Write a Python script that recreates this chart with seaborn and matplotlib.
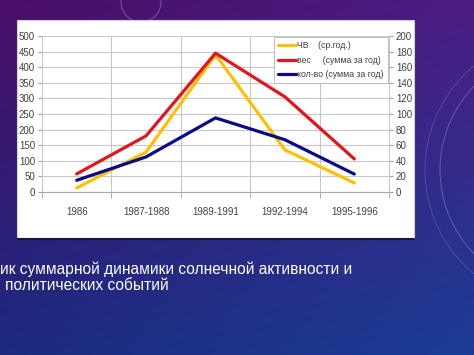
import numpy as np
import pandas as pd
import matplotlib
matplotlib.use("Agg")
import matplotlib.pyplot as plt
import seaborn as sns
from matplotlib.patches import Rectangle, Circle
from matplotlib.lines import Line2D

categories = ["1986", "1987-1988", "1989-1991", "1992-1994", "1995-1996"]
chv = [13, 128, 440, 135, 29]          # ЧВ (ср.год.) - left axis
ves = [58, 180, 445, 305, 106]         # вес (сумма за год) - left axis
kolvo = [15, 45, 95, 67, 23]           # кол-во (сумма за год) - right axis
left_ticks = list(range(0, 501, 50))
right_ticks = list(range(0, 201, 20))
legend_labels = ["ЧВ    (ср.год.)", "вес     (сумма за год)", "кол-во (сумма за год)"]
caption_1 = "ик суммарной динамики солнечной активности и"
caption_2 = "политических событий"

sns.set_style("white")
plt.rcParams["font.family"] = ["Liberation Sans", "DejaVu Sans"]

W, H = 474, 355
fig = plt.figure(figsize=(W / 100, H / 100), dpi=100)

# background gradient
bg = fig.add_axes([0, 0, 1, 1], zorder=-10)
tl = np.array([0x4a, 0x0e, 0x68]) / 255
tr = np.array([0x4c, 0x1c, 0x82]) / 255
bl = np.array([0x1c, 0x2a, 0x80]) / 255
br = np.array([0x1a, 0x3c, 0x95]) / 255
yy, xx = np.mgrid[0:1:200j, 0:1:200j]
img = (tl[None, None] * ((1 - xx) * (1 - yy))[..., None] + tr[None, None] * (xx * (1 - yy))[..., None]
       + bl[None, None] * ((1 - xx) * yy)[..., None] + br[None, None] * (xx * yy)[..., None])
bg.imshow(img, extent=[0, W, H, 0], aspect="auto")
bg.set_xlim(0, W)
bg.set_ylim(H, 0)
bg.axis("off")
# decorative faint circles
for (cx, cy, r, a) in [(141, 2, 20, 0.25), (560, 170, 120, 0.22), (560, 170, 135, 0.14)]:
    bg.add_patch(Circle((cx, cy), r, fill=False, ec="white", lw=0.8, alpha=a))
# white chart box
bg.add_patch(Rectangle((17, 20), 397, 218, fc="white", ec="#d0d0d8", lw=0.8))
bg.plot([17, 414], [238.5, 238.5], color="#1a1440", lw=1.5)
# caption
bg.text(0, 269, caption_1, color="white", fontsize=11.2, va="center", ha="left")
bg.text(5, 286, caption_2, color="white", fontsize=11.2, va="center", ha="left")

ax = fig.add_axes([42 / W, 1 - 192 / H, (389 - 42) / W, (192 - 36) / H])
ax.set_facecolor("white")
df_left = pd.DataFrame({
    "cat": categories * 2,
    "val": chv + ves,
    "series": [legend_labels[0]] * 5 + [legend_labels[1]] * 5,
})
sns.lineplot(data=df_left, x="cat", y="val", hue="series", sort=False,
             palette=["#FFC000", "#E3141B"], linewidth=2.3, ax=ax, legend=False)
ax2 = ax.twinx()
df_right = pd.DataFrame({"cat": categories, "val": kolvo})
sns.lineplot(data=df_right, x="cat", y="val", sort=False, color="#0A0A8C",
             linewidth=2.3, ax=ax2, legend=False)

ax.set_xlim(-0.5, 4.5)
ax.set_ylim(0, 500)
ax2.set_ylim(0, 200)
ax.set_yticks(left_ticks)
ax2.set_yticks(right_ticks)
ax.set_xticks(range(len(categories)))
ax.set_xticklabels(categories)
ax.set_xticks(np.arange(-0.5, 4.6, 1), minor=True)
ax.set_xlabel("")
ax.set_ylabel("")
ax2.set_ylabel("")

grid_c = "#c8c8c8"
ax.grid(True, axis="y", color=grid_c, lw=0.8)
ax.grid(True, axis="x", which="minor", color=grid_c, lw=0.8)
ax.grid(False, axis="x", which="major")
ax.set_axisbelow(True)
for a in (ax, ax2):
    for s in a.spines.values():
        s.set_visible(False)
ax.spines["left"].set_visible(True)
ax.spines["left"].set_color(grid_c)
ax.spines["bottom"].set_visible(True)
ax.spines["bottom"].set_color("#a8a8a8")
ax2.spines["right"].set_visible(True)
ax2.spines["right"].set_color(grid_c)

ax.tick_params(axis="y", which="major", length=3, color="#a0a0a0", direction="out", pad=2,
               labelsize=7, labelcolor="#404040", left=True)
ax.tick_params(axis="x", which="major", length=0, pad=11, labelsize=7, labelcolor="#404040")
ax.tick_params(axis="x", which="minor", length=4, color="#a0a0a0", direction="out", bottom=True)
ax2.tick_params(axis="y", length=3, color="#a0a0a0", direction="out", pad=2,
                labelsize=7, labelcolor="#404040", right=True)

handles = [Line2D([], [], color="#FFC000", lw=2.3),
           Line2D([], [], color="#E3141B", lw=2.3),
           Line2D([], [], color="#0A0A8C", lw=2.3)]
leg = fig.legend(handles, legend_labels, loc="upper left",
                 bbox_to_anchor=(274 / W, 1 - 37 / H), frameon=True, fancybox=False,
                 prop={"size": 6.3}, handlelength=2.0, handletextpad=0.1,
                 labelspacing=0.6, borderpad=0.5, edgecolor="#bdbdbd", framealpha=1,
                 borderaxespad=0)
leg.get_frame().set_linewidth(0.7)
for t in leg.get_texts():
    t.set_color("#404040")

fig.savefig("out.png", dpi=100)
